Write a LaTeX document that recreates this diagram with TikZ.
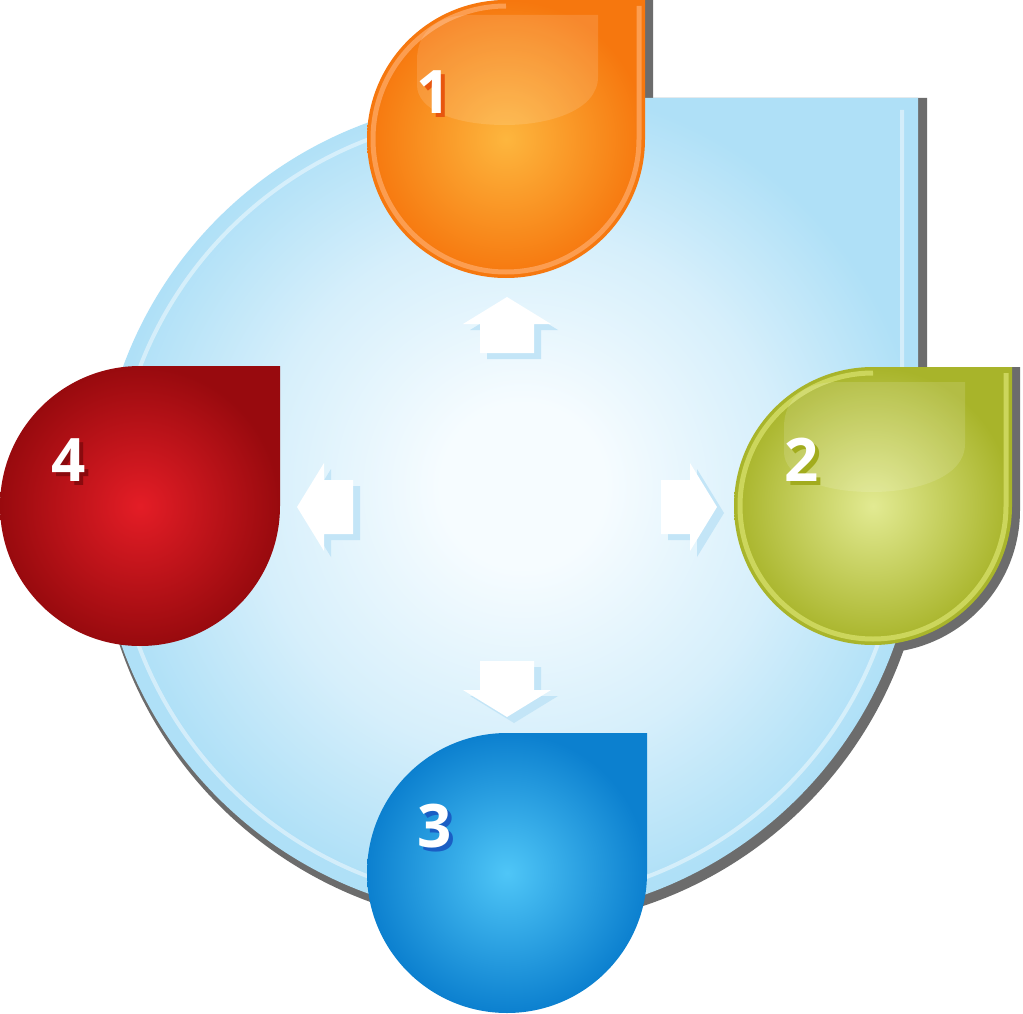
\documentclass[tikz,border=0pt]{standalone}
\usepackage{fontspec}
\setmainfont{Open Sans}
\definecolor{shadowgrey}{HTML}{6C6C6C}
\definecolor{bigin}{HTML}{F6FCFF}
\definecolor{bigmid}{HTML}{D6EFFB}
\definecolor{bigout}{HTML}{AFE0F7}
\definecolor{arrowsh}{HTML}{C3E5F7}
\definecolor{orin}{HTML}{FDB63E}
\definecolor{orout}{HTML}{F6770E}
\definecolor{orrim}{HTML}{FC9D50}
\definecolor{orsh}{HTML}{E8560E}
\definecolor{grin}{HTML}{E2EA92}
\definecolor{grout}{HTML}{A8B42A}
\definecolor{grrim}{HTML}{CCD65C}
\definecolor{grsh}{HTML}{A2AC1E}
\definecolor{rdin}{HTML}{E41D26}
\definecolor{rdout}{HTML}{980A0E}
\definecolor{rdsh}{HTML}{8A0A0E}
\definecolor{blin}{HTML}{4FC6F7}
\definecolor{blout}{HTML}{0C80CF}
\definecolor{blsh}{HTML}{1A5EC4}
\pgfdeclareradialshading{bigshade}{\pgfpoint{1bp}{1.5bp}}{color(0bp)=(bigin); color(5bp)=(bigin); color(16bp)=(bigmid); color(25bp)=(bigout); color(50bp)=(bigout)}
\newcommand\dropshape[3]{(#1+#3,#2-#3) -- (#1+#3,#2) arc[start angle=0,end angle=270,radius=#3] -- cycle}
\newcommand\rimline[3]{(#1+#3,#2-#3) -- (#1+#3,#2) arc[start angle=0,end angle=270,radius=#3]}
\newcommand\arrowshape{(0,-210) -- (44,-183) -- (27,-183) -- (27,-154) -- (-27,-154) -- (-27,-183) -- (-44,-183) -- cycle}
\newcommand\glossshape{(598,15) -- (598,77) .. controls (598,110) and (550,125) .. (505,125) .. controls (455,125) and (417,110) .. (417,85) -- (417,60) .. controls (417,30) and (440,15) .. (470,15) -- cycle}
\newcommand\shadowdigit[2]{\rlap{\kern3.5pt\raisebox{-3.5pt}{\textcolor{#1}{#2}}}#2}
\tikzset{
  num/.style={font=\fontsize{60}{62}\selectfont\bfseries, text=white, inner sep=0pt},
  arrowbody/.style={fill=white},
  arrowshadow/.style={fill=arrowsh},
  gloss/.style={fill=white, fill opacity=0.13},
  rim/.style={draw=#1, line width=5pt},
}
\begin{document}
\begin{tikzpicture}[x=1pt,y=-1pt]
\useasboundingbox (0,0) rectangle (1023,1014);
\fill[white] (0,0) rectangle (1023,1014);
% shadows
\fill[shadowgrey] (927,98) -- (927,512.5) arc[start angle=0,end angle=270,radius=414.5] -- cycle;
\fill[shadowgrey] \dropshape{510}{143}{143};
\fill[shadowgrey] \dropshape{877}{510}{143};
% big shape
\shade[shading=bigshade] (918,98) -- (918,508) arc[start angle=0,end angle=270,radius=410] -- cycle;
\draw[white, opacity=0.45, line width=4pt] (902,110) -- (902,508) arc[start angle=0,end angle=270,radius=394];
% arrows
\foreach \r in {0,90,180,270}{
  \fill[arrowshadow, shift={(514,513)}, rotate=\r] \arrowshape;
}
\foreach \r in {0,90,180,270}{
  \fill[arrowbody, shift={(507,507)}, rotate=\r] \arrowshape;
}
% drop 1 orange
\shade[inner color=orin, outer color=orout] \dropshape{506}{139}{139};
\draw[rim=orrim] \rimline{506}{139}{133};
\fill[gloss] \glossshape;
% drop 2 green
\shade[inner color=grin, outer color=grout] \dropshape{873}{506}{139};
\draw[rim=grrim] \rimline{873}{506}{133};
\fill[gloss, shift={(367,367)}] \glossshape;
% drop 3 blue
\shade[inner color=blin, outer color=blout] \dropshape{507}{873}{140};
% drop 4 red
\shade[inner color=rdin, outer color=rdout] \dropshape{140}{506}{140};
% numbers
\node[num] (n1) at (434,94) {\shadowdigit{orsh}{1}};
\node[num] (n2) at (802,462) {\shadowdigit{grsh}{2}};
\node[num] (n3) at (435,828) {\shadowdigit{blsh}{3}};
\node[num] (n4) at (69,462) {\shadowdigit{rdsh}{4}};
\end{tikzpicture}
\end{document}
